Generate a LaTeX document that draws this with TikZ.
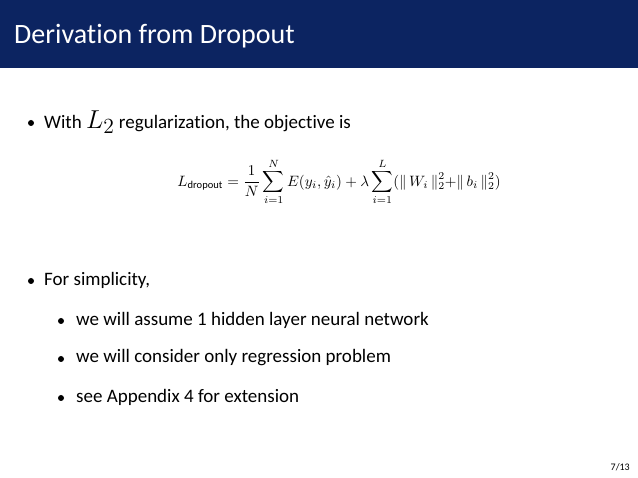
\documentclass[tikz,border=0pt]{standalone}
\usepackage{amsmath}
\usepackage{graphicx}
\usepackage{fontspec}
\setmainfont{Carlito}[RawFeature={-liga;-clig;-calt;-dlig}]
\definecolor{navy}{RGB}{12,36,97}
\begin{document}
\begin{tikzpicture}[x=1pt,y=-1pt,
  txt/.style={anchor=west,inner sep=0pt,font=\fontsize{19}{22}\selectfont},
  dot/.style={circle,fill=black,inner sep=0pt,minimum size=6pt}]
\useasboundingbox (0,0) rectangle (638,478);
\fill[navy] (0,0) rectangle (638,68);
\node[anchor=west,text=white,inner sep=0pt,font=\fontsize{28}{32}\selectfont] (title) at (14,36) {Derivation from Dropout};
\node[dot] (d1) at (31,123) {};
\node[txt] (t1) at (44,122) {With \scalebox{1.5}{$L_2$} regularization, the objective is};
\node[inner sep=0pt] (eq) at (339,182) {\scalebox{1.5}{$\displaystyle L_{\mathrm{dropout}} = \frac{1}{N}\sum_{i=1}^{N} E(y_i,\hat{y}_i) + \lambda\sum_{i=1}^{L}(\Vert\, W_i\, \Vert_2^2 {+} \Vert\, b_i\, \Vert_2^2)$}};
\node[dot] (d2) at (31,281) {};
\node[txt] (t2) at (44,280) {For simplicity,};
\node[dot] (d3) at (61,321) {};
\node[txt] (t3) at (76,320) {we will assume 1 hidden layer neural network};
\node[dot] (d4) at (61,359) {};
\node[txt] (t4) at (76,358) {we will consider only regression problem};
\node[dot] (d5) at (61,398) {};
\node[txt] (t5) at (76,397) {see Appendix 4 for extension};
\node[anchor=east,inner sep=0pt,font=\fontsize{10}{12}\selectfont] (pg) at (630,467) {7/13};
\end{tikzpicture}
\end{document}
